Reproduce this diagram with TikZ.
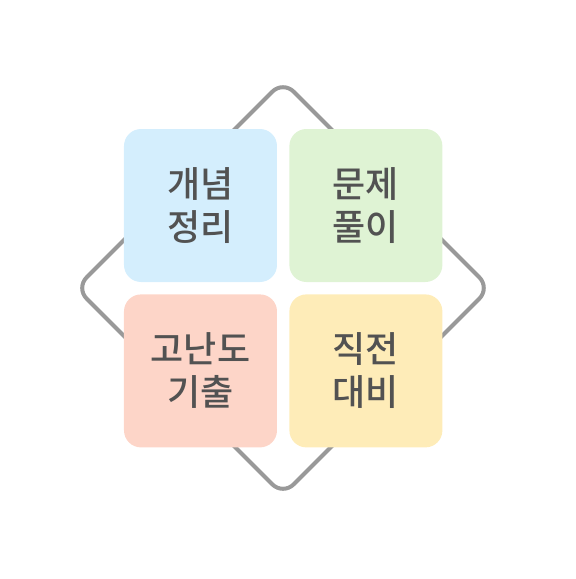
\documentclass[tikz,border=0pt]{standalone}
\usepackage{fontspec}
\usepackage{xcolor}
\usetikzlibrary{positioning}
\newfontfamily\kr{Noto Sans CJK KR}[UprightFont={* Medium}]
\definecolor{skyblue}{RGB}{212,238,253}
\definecolor{mint}{RGB}{223,243,212}
\definecolor{salmon}{RGB}{253,213,200}
\definecolor{butter}{RGB}{254,236,184}
\definecolor{frame}{RGB}{153,153,153}
\definecolor{ink}{RGB}{82,82,82}

\begin{document}
\begin{tikzpicture}[x=1pt, y=1pt, node distance=12pt,
    tile/.style={rectangle, rounded corners=17pt, minimum size=153pt, inner sep=0pt,
      text=ink, align=center, font=\kr\fontsize{36}{43}\selectfont}]
					\useasboundingbox (-283,-291) rectangle (293,288);
					\draw[frame, line width=4pt, rounded corners=15pt] (0,207) -- (207,0) -- (0,-207) -- (-207,0) -- cycle;
					
					\node[tile, fill=skyblue] (concept) at (-82.5,82.5) {개념\\정리};
					\node[tile, fill=mint, right=of concept] (practice) {문제\\풀이};
					\node[tile, fill=salmon, below=of concept] (hard) {고난도\\기출};
					\node[tile, fill=butter, below=of practice] (final) {직전\\대비};
				\end{tikzpicture}
\end{document}
